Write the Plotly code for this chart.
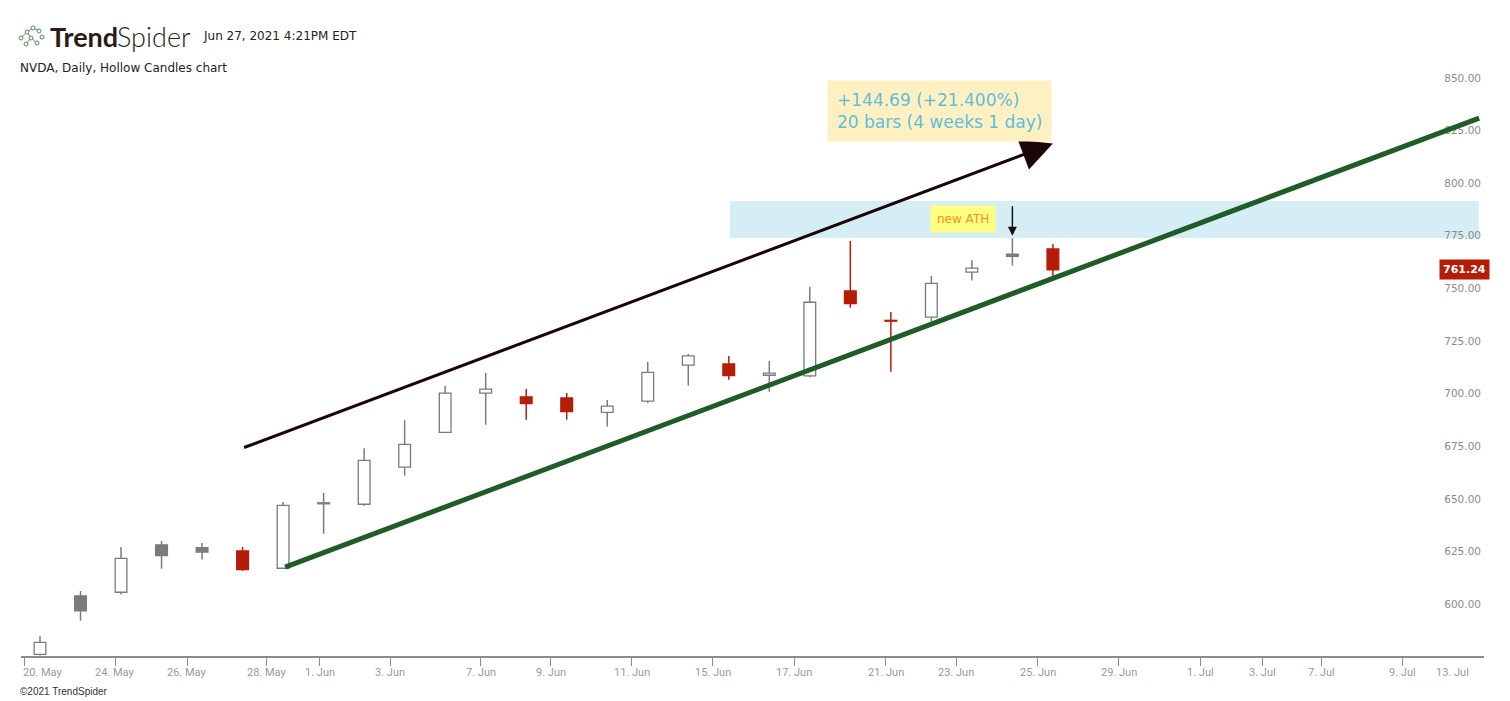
import plotly.graph_objects as go

# ---------------- data ----------------
dates = ["2021-05-20", "2021-05-21", "2021-05-24", "2021-05-25", "2021-05-26", "2021-05-27",
         "2021-05-28", "2021-06-01", "2021-06-02", "2021-06-03", "2021-06-04", "2021-06-07",
         "2021-06-08", "2021-06-09", "2021-06-10", "2021-06-11", "2021-06-14", "2021-06-15",
         "2021-06-16", "2021-06-17", "2021-06-18", "2021-06-21", "2021-06-22", "2021-06-23",
         "2021-06-24", "2021-06-25"]
opens = [578.5, 606.2, 608.0, 630.5, 629.2, 627.6, 619.4, 650.0, 649.8, 667.4, 684.0, 702.6,
         700.8, 700.3, 693.5, 698.8, 715.9, 716.5, 711.1, 710.8, 751.2, 737.1, 738.7, 760.1,
         768.6, 771.1]
highs = [587.1, 608.6, 629.5, 632.4, 631.4, 629.5, 650.9, 655.2, 676.4, 689.7, 706.0, 712.2,
         704.6, 702.7, 699.4, 717.4, 721.2, 720.3, 717.9, 753.1, 774.9, 741.2, 758.3, 765.8,
         776.2, 773.5]
lows = [577.9, 594.5, 606.9, 619.2, 623.5, 618.1, 619.3, 635.8, 649.1, 663.4, 683.9, 687.6,
        690.0, 690.0, 686.7, 697.8, 706.2, 709.0, 703.3, 710.2, 743.2, 712.8, 736.8, 756.1,
        763.2, 758.0]
closes = [584.2, 599.2, 624.1, 625.4, 627.1, 618.7, 649.3, 650.5, 670.7, 678.3, 702.6, 704.5,
          697.6, 693.8, 696.4, 712.5, 720.3, 710.9, 712.1, 745.8, 745.1, 736.8, 754.8, 762.0,
          767.6, 761.24]

tick_labels = ["20. May", "24. May", "26. May", "28. May", "1. Jun", "3. Jun", "7. Jun", "9. Jun",
               "11. Jun", "15. Jun", "17. Jun", "21. Jun", "23. Jun", "25. Jun", "29. Jun",
               "1. Jul", "3. Jul", "7. Jul", "9. Jul", "13. Jul"]
tick_bar_pos = [-0.39, 1.86, 3.63, 5.60, 6.91, 8.64, 10.88, 12.61, 14.61, 16.61, 18.61, 20.88,
                22.61, 24.62, 26.62, 28.64, 30.17, 31.63, 33.63, 35.54]
price_ticks = [600, 625, 650, 675, 700, 725, 750, 775, 800, 825, 850]

# drawings (bar index, price)
channel_top = [(5, 676.5), (25, 821.19)]
channel_bottom = [(6.05, 619.9), (35.52, 833.3)]
ath_zone = [(17.03, 776.35), (35.51, 793.93)]
last_price = 761.24

# ---------------- styling ----------------
W, H = 1510, 701
ML, MR, MT, MB = 21, 26, 60, 45
GRAY = "#7b7b7b"
RED = "#b61d08"

idx = list(range(len(dates)))
fills, lines, bases, heights = [], [], [], []
gw_x, gw_y, rw_x, rw_y = [], [], [], []
for i in idx:
    o, h, l, c = opens[i], highs[i], lows[i], closes[i]
    prev = closes[i - 1] if i > 0 else o
    col = RED if c < prev else GRAY
    hollow = c > o
    fills.append("white" if hollow else col)
    lines.append(col)
    lo, hi = min(o, c), max(o, c)
    bases.append(lo)
    heights.append(max(hi - lo, 0.4))
    wx, wy = (rw_x, rw_y) if col == RED else (gw_x, gw_y)
    wx += [i, i, None, i, i, None]
    wy += [h, hi, None, lo, l, None]

fig = go.Figure()
fig.add_trace(go.Scatter(x=gw_x, y=gw_y, mode="lines", line=dict(color=GRAY, width=1.5),
                         hoverinfo="skip"))
fig.add_trace(go.Scatter(x=rw_x, y=rw_y, mode="lines", line=dict(color=RED, width=1.5),
                         hoverinfo="skip"))
fig.add_trace(go.Bar(x=idx, y=heights, base=bases, width=0.29,
                     marker=dict(color=fills, line=dict(color=lines, width=1.3)),
                     hoverinfo="skip"))

# ATH zone
fig.add_shape(type="rect", x0=ath_zone[0][0], x1=ath_zone[1][0], y0=ath_zone[0][1],
              y1=ath_zone[1][1], fillcolor="#d5eef5", line=dict(width=0), layer="below")
# green support line
fig.add_shape(type="line", x0=channel_bottom[0][0], y0=channel_bottom[0][1],
              x1=channel_bottom[1][0], y1=channel_bottom[1][1],
              line=dict(color="#1f5c27", width=5), layer="above")
# black measure arrow
fig.add_annotation(x=channel_top[1][0], y=channel_top[1][1], ax=channel_top[0][0],
                   ay=channel_top[0][1], axref="x", ayref="y", xref="x", yref="y", text="",
                   showarrow=True, arrowhead=2, arrowsize=2.1, arrowwidth=3,
                   arrowcolor="#1a0606")
# measurement box
fig.add_annotation(x=19.42, y=851.4, xref="x", yref="y", xanchor="left", yanchor="top",
                   text="+144.69 (+21.400%)<br>20 bars (4 weeks 1 day)", align="left",
                   showarrow=False, bgcolor="#fff0c2", borderpad=9,
                   font=dict(family="DejaVu Sans", size=17, color="#5bbfdf"))
# new ATH
fig.add_annotation(x=22.77, y=785.4, xref="x", yref="y", text="new ATH", showarrow=False,
                   bgcolor="#ffff80", borderpad=6,
                   font=dict(family="DejaVu Sans", size=12, color="#ef9321"))
fig.add_annotation(x=24, y=777.4, xref="x", yref="y", ax=0, ay=-31, text="", showarrow=True,
                   arrowhead=2, arrowsize=1.2, arrowwidth=1.5, arrowcolor="#111111")
# last price label
fig.add_annotation(x=1, xref="paper", y=last_price, yref="y", xanchor="right", xshift=6,
                   text="<b>%.2f</b>" % last_price, showarrow=False, bgcolor=RED, borderpad=3,
                   font=dict(family="DejaVu Sans", size=11, color="white"))

# x tick labels (drawn as text at each tick, ends kept inside the plot)
for k, (lab, pos) in enumerate(zip(tick_labels, tick_bar_pos)):
    if k == 0:
        anc, sh = "left", -3
    elif k == len(tick_labels) - 1:
        anc, sh = "right", -9
    else:
        anc, sh = "center", 0
    fig.add_annotation(x=pos, xref="x", y=0, yref="paper", xanchor=anc, yanchor="middle",
                       xshift=sh, yshift=-16, text=lab, showarrow=False,
                       font=dict(family="Roboto", size=11, color="#9a9a9a"))

# ---------------- header / footer ----------------
PW, PH = W - ML - MR, H - MT - MB


def px_annot(text, px, py, size, color, family="DejaVu Sans", weight=None, anchor="left"):
    f = dict(family=family, size=size, color=color)
    if weight:
        f["weight"] = weight
    fig.add_annotation(xref="paper", yref="paper", x=0, y=1, xanchor=anchor, yanchor="middle",
                       xshift=px - ML, yshift=MT - py, text=text, showarrow=False, font=f)


px_annot("Trend", 48, 36, 27, "#2a1a1a", family="Lato", weight=700)
px_annot("Spider", 115, 36, 27, "#2a1a1a", family="Lato", weight=300)
px_annot("Jun 27, 2021 4:21PM EDT", 201, 36, 12, "#222222")
px_annot("NVDA, Daily, Hollow Candles chart", 18, 68, 12, "#222222")
px_annot("©2021 TrendSpider", 18, 691, 10, "#333333", family="Liberation Sans")


def pxx(px):
    return (px - ML) / PW


def pxy(py):
    return 1 - (py - MT) / PH


icon_nodes = [(21, 38), (27, 32), (33, 28), (39, 31), (31, 38), (37, 43), (26, 44), (42, 37)]
icon_links = [(0, 1), (1, 2), (1, 4), (4, 5), (4, 6), (2, 3)]
for a, b in icon_links:
    fig.add_shape(type="line", xref="paper", yref="paper", x0=pxx(icon_nodes[a][0]),
                  y0=pxy(icon_nodes[a][1]), x1=pxx(icon_nodes[b][0]), y1=pxy(icon_nodes[b][1]),
                  line=dict(color="#5a9a68", width=1))
for (cx, cy) in icon_nodes:
    fig.add_shape(type="circle", xref="paper", yref="paper", x0=pxx(cx - 2), x1=pxx(cx + 2),
                  y0=pxy(cy + 2), y1=pxy(cy - 2), fillcolor="white",
                  line=dict(color="#4f8f5d", width=1))

# ---------------- axes ----------------
fig.update_layout(
    width=W, height=H, margin=dict(l=ML, r=MR, t=MT, b=MB, autoexpand=False),
    paper_bgcolor="white", plot_bgcolor="white", showlegend=False, hovermode=False,
    xaxis=dict(range=[-0.469, 35.64], tickmode="array", tickvals=tick_bar_pos,
               showticklabels=False, showgrid=False, zeroline=False, showline=True,
               linecolor="#8c8c8c", linewidth=1.5, ticks="outside", ticklen=8,
               tickcolor="#8c8c8c", tickwidth=1, automargin=False, fixedrange=True),
    yaxis=dict(range=[577.7, 860.9], side="right", ticklabelposition="inside",
               tickmode="array", tickvals=price_ticks, automargin=False,
               ticktext=["%.2f" % v for v in price_ticks], showgrid=False, zeroline=False,
               showline=False, ticks="", ticklabelshift=-5,
               tickfont=dict(family="DejaVu Sans", size=10.5, color="#8a8a8a"), fixedrange=True),
)

fig.write_html("out.html")
